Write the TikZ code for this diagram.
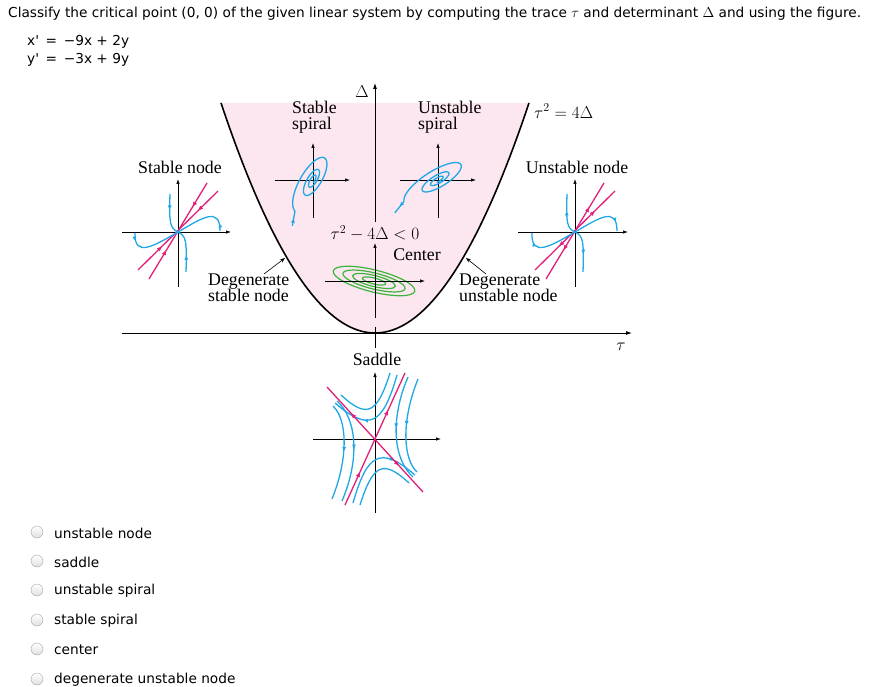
\documentclass[tikz,border=0pt]{standalone}
\usepackage{fontspec}
\setmainfont{Liberation Serif}
\newfontfamily\uifont{DejaVu Sans}
\usetikzlibrary{arrows.meta,decorations.markings}
\definecolor{cblue}{HTML}{1EA8E6}
\definecolor{cmag}{HTML}{E0207A}
\definecolor{cgreen}{HTML}{3DB53D}
\definecolor{cpink}{HTML}{FCE6F0}
\tikzset{
  ui/.style={font=\uifont\fontsize{13.7}{15}\selectfont,anchor=west,inner sep=0},
  lab/.style={font=\fontsize{17.8}{19}\selectfont,inner sep=0,align=left},
  ax/.style={line width=0.8pt,-{Latex[length=6pt,width=4pt]}},
  mini/.style={line width=0.7pt,-{Latex[length=5pt,width=3.5pt]}},
  fw/.style={postaction={decorate},decoration={markings,mark=at position #1 with {\arrow{Latex[length=5pt,width=4pt]}}}},
  bw/.style={postaction={decorate},decoration={markings,mark=at position #1 with {\arrowreversed{Latex[length=5pt,width=4pt]}}}},
  bl/.style={cblue,line width=1.3pt},
  mg/.style={cmag,line width=1.3pt},
  gr/.style={cgreen,line width=1.2pt},
  radio/.style={circle,draw=gray!70,inner sep=0,minimum size=12pt,top color=white,bottom color=gray!25},
}
\begin{document}
\begin{tikzpicture}[x=1pt,y=-1pt]
\useasboundingbox (0,0) rectangle (876,687);
\node[ui] (q) at (8,14) {Classify the critical point (0, 0) of the given linear system by computing the trace $\tau$ and determinant $\Delta$ and using the figure.};
\node[ui] (e1) at (27,42) {x'\, =\, −9x + 2y};
\node[ui] (e2) at (27,60) {y'\, =\, −3x + 9y};
% pink region and parabola
\fill[cpink] plot[variable=\t,domain=-1.54:1.54,samples=80] ({375+100*\t},{333-97*\t*\t}) -- cycle;
\draw[line width=1.6pt] plot[variable=\t,domain=-1.54:1.54,samples=80,smooth] ({375+100*\t},{333-97*\t*\t});
% axes
\coordinate (tL) at (122,333); \coordinate (tR) at (632,333);
\coordinate (dB) at (375,222); \coordinate (dT) at (375,83);
\coordinate (dB2) at (375,348); \coordinate (dT2) at (375,327);
\draw[ax] (tL) -- (tR);
\draw[ax] (dB) -- (dT);
\draw[line width=0.8pt] (dB2) -- (dT2);
\node[lab] (delta) at (362,92) {$\Delta$};
\node[lab] (tau) at (621,347) {$\tau$};
\node[lab,anchor=west] (parab) at (534,111) {$\tau^2 = 4\Delta$};
\node[lab,anchor=north west] (ss) at (292,101) {Stable\\[-3pt]spiral};
\node[lab,anchor=north west] (us) at (418,101) {Unstable\\[-3pt]spiral};
\node[lab] (sn) at (180,167) {Stable node};
\node[lab] (un) at (577,167) {Unstable node};
\node[lab] (disc) at (375,233) {$\tau^2 - 4\Delta < 0$};
\node[lab] (cen) at (417,255) {Center};
\node[lab,anchor=north west] (dsn) at (208,274) {Degenerate\\[-3pt]stable node};
\node[lab,anchor=north west] (dun) at (459,274) {Degenerate\\[-3pt]unstable node};
\node[lab] (sad) at (377,359) {Saddle};
\coordinate (dsnA) at (285,258); \coordinate (dsnS) at (264,274);
\coordinate (dunA) at (466,258); \coordinate (dunS) at (486,274);
\draw[line width=0.6pt,-{Stealth[length=5pt]}] (dsnS) -- (dsnA);
\draw[line width=0.6pt,-{Stealth[length=5pt]}] (dunS) -- (dunA);
% stable spiral
\begin{scope}[shift={(313,180)}]
\draw[mini] (-38,0) -- (37,0);
\draw[mini] (0,38) -- (0,-37);
\begin{scope}[rotate=60]
\draw[bl] plot[domain=180:1200,samples=220,smooth] ({36*exp(-0.0021*(\x-180))*cos(\x)},{14*exp(-0.0021*(\x-180))*sin(\x)});
\draw[bl,fw=0.55] (-50,5) -- (-36,0);
\end{scope}
\end{scope}
% unstable spiral
\begin{scope}[shift={(438,180)}]
\draw[mini] (-38,0) -- (38,0);
\draw[mini] (0,38) -- (0,-37);
\begin{scope}[rotate=32]
\draw[bl] plot[domain=180:1200,samples=220,smooth] ({40*exp(-0.0021*(\x-180))*cos(\x)},{13*exp(-0.0021*(\x-180))*sin(\x)});
\draw[bl,bw=0.5] (-54,5) -- (-40,0);
\end{scope}
\end{scope}
% center
\begin{scope}[shift={(374,281)}]
\begin{scope}[rotate=-14]
\foreach \a/\b in {42/11,32/8,22/5.5,12/3} \draw[gr] (0,0) ellipse ({\a} and {\b});
\end{scope}
\draw[mini] (-49,0) -- (51,0);
\draw[mini] (1,37) -- (1,-38);
\end{scope}
% stable node
\begin{scope}[shift={(178,232)}]
\draw[mini] (-56,0) -- (53,0);
\draw[mini] (0,55) -- (0,-53);
\draw[mg,fw=0.3,bw=0.75] (-29,47) -- (29,-49);
\draw[mg,fw=0.3,bw=0.75] (-40,38) -- (40,-41);
\draw[bl,fw=0.4] (-8,-38) .. controls (-9,-8) and (-8,-4) .. (0,0);
\draw[bl,fw=0.4] (8,40) .. controls (9,8) and (8,4) .. (0,0);
\draw[bl,fw=0.15] (-43,1) .. controls (-44,26) and (-24,14) .. (0,0);
\draw[bl,fw=0.15] (42,-1) .. controls (42,-26) and (24,-14) .. (0,0);
\end{scope}
% unstable node
\begin{scope}[shift={(575,232)}]
\draw[mini] (-57,0) -- (53,0);
\draw[mini] (0,55) -- (0,-53);
\draw[mg,bw=0.3,fw=0.75] (-29,47) -- (29,-49);
\draw[mg,bw=0.3,fw=0.75] (-40,38) -- (40,-41);
\draw[bl,bw=0.4] (-8,-38) .. controls (-9,-8) and (-8,-4) .. (0,0);
\draw[bl,bw=0.4] (8,40) .. controls (9,8) and (8,4) .. (0,0);
\draw[bl,bw=0.15] (-43,1) .. controls (-44,26) and (-24,14) .. (0,0);
\draw[bl,bw=0.15] (42,-1) .. controls (42,-26) and (24,-14) .. (0,0);
\end{scope}
% saddle
\begin{scope}[shift={(375,439)}]
\draw[mini] (-62,0) -- (66,0);
\draw[mini] (0,74) -- (0,-67);
\draw[bl,bw=0.35] (-40,-36) .. controls (-5,-6) and (8,-15) .. (22,-64);
\draw[bl] (-34,-44) .. controls (-8,-20) and (2,-25) .. (15,-66);
\draw[bl,fw=0.35] (40,36) .. controls (5,6) and (-8,15) .. (-22,64);
\draw[bl] (34,44) .. controls (8,20) and (-2,25) .. (-15,66);
\draw[bl,bw=0.5] (-33,62) .. controls (-15,20) and (-18,-20) .. (-38,-38);
\draw[bl,bw=0.5] (-43,60) .. controls (-26,18) and (-28,-20) .. (-42,-33);
\draw[bl,fw=0.5] (33,-62) .. controls (15,-20) and (18,20) .. (38,38);
\draw[bl,fw=0.5] (43,-60) .. controls (26,-18) and (28,20) .. (42,33);
\draw[mg,bw=0.25,fw=0.75] (-48,-52) -- (48,53);
\draw[mg,fw=0.25,fw=0.72] (-30,66) -- (30,-66);
\end{scope}
% options
\foreach \y/\t [count=\i] in {533/unstable node,562/saddle,591/unstable spiral,621/stable spiral,650/center,680/degenerate unstable node}{
  \node[radio] (r\i) at (37,\y-1) {};
  \node[ui] (o\i) at (54,\y) {\t};
}
\end{tikzpicture}
\end{document}
